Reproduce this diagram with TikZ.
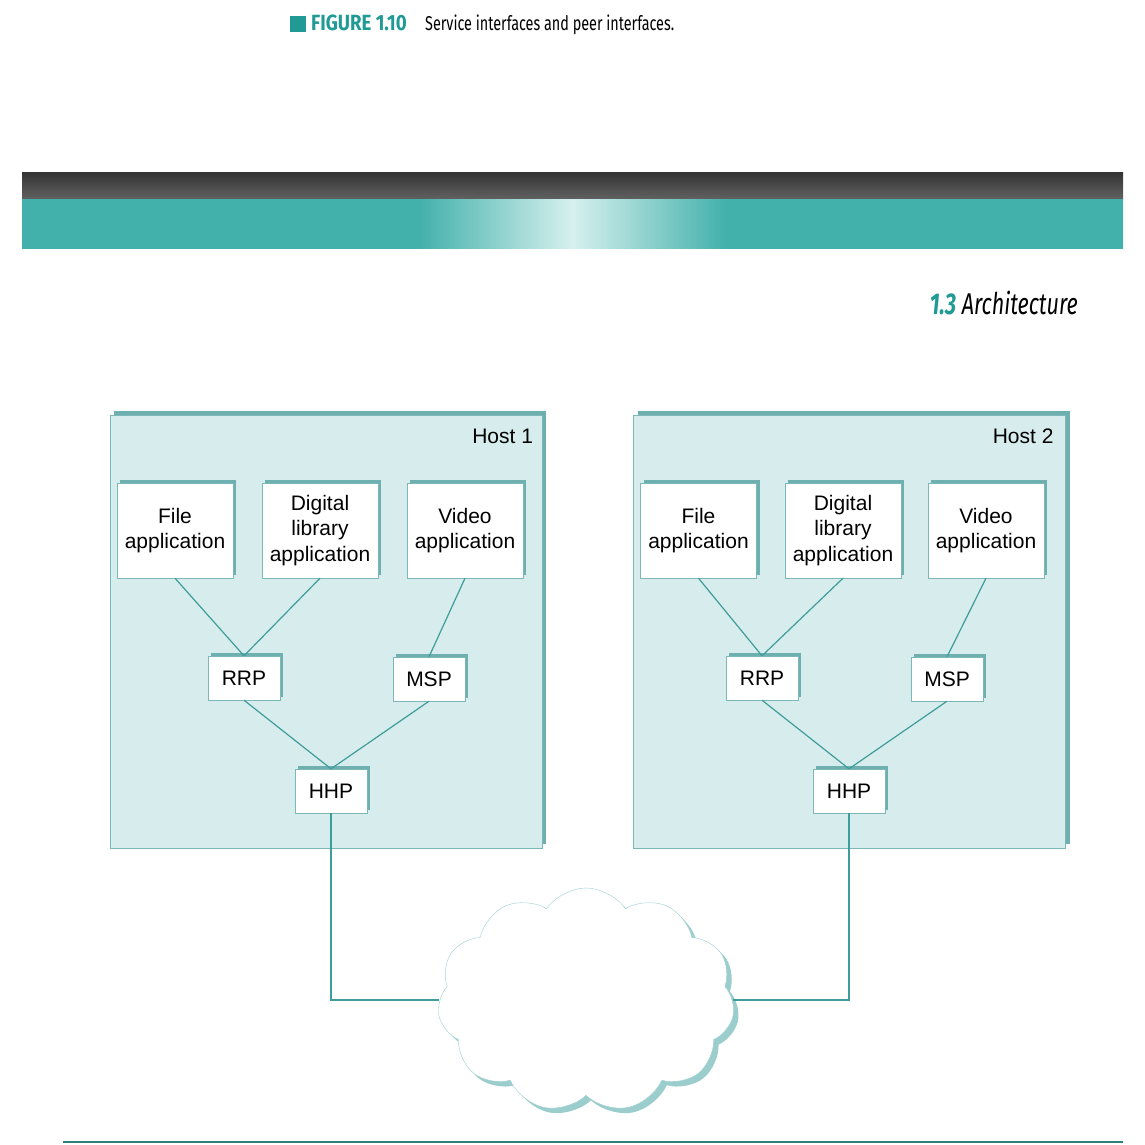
\documentclass[tikz,border=0pt]{standalone}
\usepackage{fontspec}
\setmainfont{Liberation Sans}
\newfontfamily\condfont[FakeStretch=0.72]{Fira Sans}
\newfontfamily\headfont[FakeStretch=0.85]{Fira Sans}
\usepackage{xcolor}
\usetikzlibrary{positioning,shapes.symbols,shadows}

\definecolor{hostfill}{HTML}{D7EDED}
\definecolor{hostedge}{HTML}{7DB8B8}
\definecolor{wire}{HTML}{3E9C9A}
\definecolor{shadowteal}{HTML}{6DB0AF}
\definecolor{headteal}{HTML}{1F9A95}
\definecolor{bandteal}{HTML}{42B0AB}
\definecolor{bandlight}{HTML}{D6F0EE}
\definecolor{cloudedge}{HTML}{9CCFCF}
\definecolor{cloudshade}{HTML}{9CCDCD}
\definecolor{ruleteal}{HTML}{2F7F7A}

\pgfdeclarehorizontalshading{bandshade}{100bp}{color(0bp)=(bandteal); color(43bp)=(bandteal);
  color(50bp)=(bandlight); color(57bp)=(bandteal); color(100bp)=(bandteal)}

\begin{document}
\begin{tikzpicture}[
  x=1pt, y=-1pt,
  host/.style={draw=hostedge, fill=hostfill, minimum width=432pt, minimum height=433pt,
    drop shadow={shadow xshift=4pt, shadow yshift=4pt, fill=shadowteal, opacity=1}},
  app/.style={draw=hostedge, fill=white, align=center, minimum width=116pt, minimum height=95pt,
    inner sep=1pt, font=\fontsize{21}{25.5}\selectfont,
    drop shadow={shadow xshift=3pt, shadow yshift=3pt, fill=shadowteal, opacity=1}},
  proto/.style={app, minimum width=72pt, minimum height=44pt},
  hostlabel/.style={inner sep=0pt, font=\fontsize{21}{25}\selectfont},
  wire/.style={draw=wire, line width=1.2pt}
]
\useasboundingbox (0,0) rectangle (1145,1145);

% caption and page head
\fill[headteal] (290,16) rectangle (306,32);
\node[anchor=base west, inner sep=0pt, text=headteal, font=\headfont\bfseries\fontsize{22}{24}\selectfont] (fig) at (311,31) {FIGURE 1.10};
\node[anchor=base west, inner sep=0pt, font=\condfont\fontsize{20}{24}\selectfont] (cap) at (425,31) {Service interfaces and peer interfaces.};
\shade[top color=black!80, bottom color=black!62] (22,172) rectangle (1123,199);
\shade[shading=bandshade] (22,199) rectangle (1123,248);
\node[anchor=base east, inner sep=0pt, font=\condfont\itshape\fontsize{30}{32}\selectfont] (sec) at (1078,314) {{\bfseries\color{headteal}1.3} Architecture};

% hosts
\node[host] (hostA) at (326,631.5) {};
\node[host] (hostB) at (849.5,631.5) {};
\node[hostlabel, below left=14pt and 9pt of hostA.north east] {Host 1};
\node[hostlabel, below left=14pt and 12pt of hostB.north east] {Host 2};

\node[app] (fileA) at (175,530.5) {File\\application};
\node[app] (digA) at (320,530.5) {Digital\\library\\application};
\node[app] (vidA) at (465,530.5) {Video\\application};
\node[proto] (rrpA) at (244,678) {RRP};
\node[proto] (mspA) at (429,679) {MSP};
\node[proto] (hhpA) at (331,791) {HHP};

\node[app] (fileB) at (698.5,530.5) {File\\application};
\node[app] (digB) at (843,530.5) {Digital\\library\\application};
\node[app] (vidB) at (986,530.5) {Video\\application};
\node[proto] (rrpB) at (762,678) {RRP};
\node[proto] (mspB) at (947,679) {MSP};
\node[proto] (hhpB) at (849,791) {HHP};

% network
\node[cloud, cloud puffs=11, cloud puff arc=110, aspect=1.33, draw=cloudedge, fill=white, minimum width=297pt, minimum height=224pt,
  drop shadow={shadow xshift=5pt, shadow yshift=-5pt, fill=cloudshade, opacity=1}] (net) at (586,1000) {};

\foreach \x/\y in {fileA/rrpA,digA/rrpA,vidA/mspA,rrpA/hhpA,mspA/hhpA,
                   fileB/rrpB,digB/rrpB,vidB/mspB,rrpB/hhpB,mspB/hhpB}
  \draw[wire] (\x.south) -- (\y.north);
\draw[wire] (hhpA.south) |- (net.west);
\draw[wire] (hhpB.south) |- (net.east);

\draw[ruleteal, line width=2pt] (63,1142) -- (1123,1142);
\end{tikzpicture}
\end{document}
